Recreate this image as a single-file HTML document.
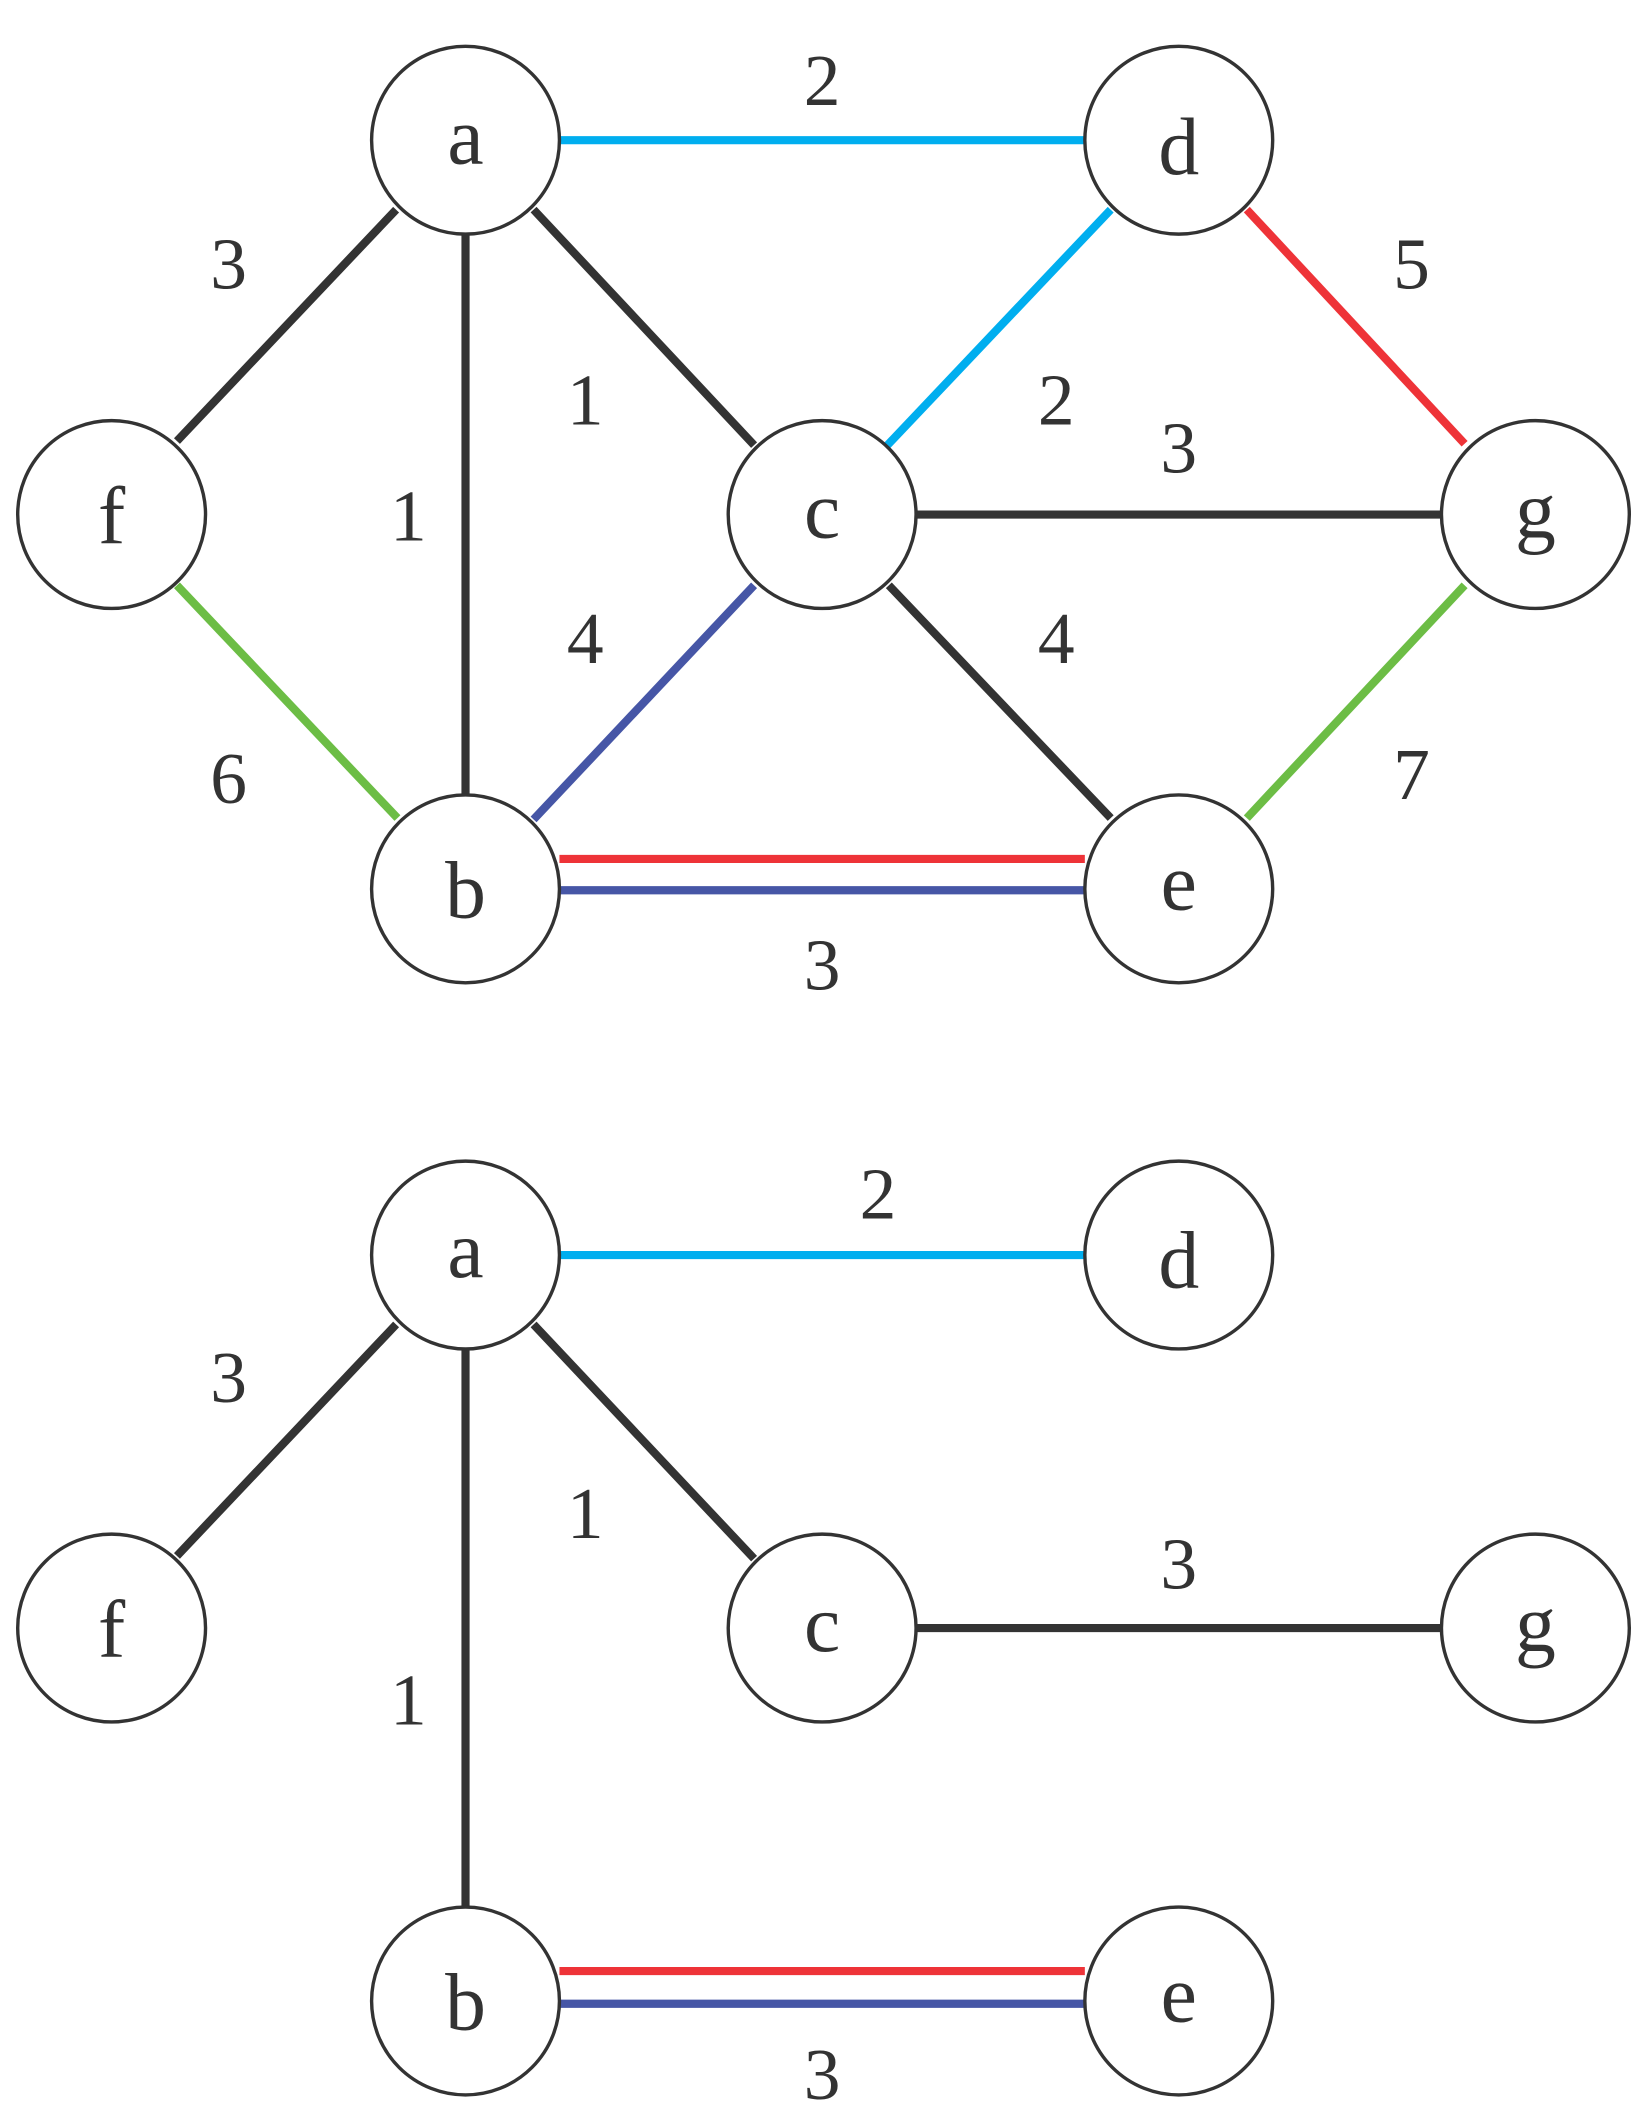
<!DOCTYPE html>
<html><head><meta charset="utf-8"><style>html,body{margin:0;padding:0;background:#fff}svg{display:block}</style></head>
<body>
<svg width="1647" height="2114" viewBox="0 0 1210 1553" preserveAspectRatio="none" xmlns="http://www.w3.org/2000/svg">
<g stroke-width="6" fill="none" stroke-linecap="butt">
<line x1="411" y1="103" x2="797" y2="103" stroke="#00aeef"/>
<line x1="291" y1="154" x2="130" y2="324" stroke="#333"/>
<line x1="342" y1="172" x2="342" y2="584" stroke="#333"/>
<line x1="392" y1="154" x2="554" y2="327" stroke="#333"/>
<line x1="816" y1="154" x2="652" y2="327" stroke="#00aeef"/>
<line x1="916" y1="154" x2="1076" y2="326" stroke="#ee3338"/>
<line x1="673" y1="378" x2="1059" y2="378" stroke="#333"/>
<line x1="554" y1="430" x2="392" y2="602" stroke="#4656a6"/>
<line x1="653" y1="430" x2="816" y2="601" stroke="#333"/>
<line x1="130" y1="430" x2="292" y2="601" stroke="#6cbd45"/>
<line x1="1076" y1="430" x2="916" y2="601" stroke="#6cbd45"/>
<line x1="411" y1="631" x2="797" y2="631" stroke="#ee3338"/>
<line x1="411" y1="654" x2="797" y2="654" stroke="#4656a6"/>
<line x1="411" y1="922" x2="797" y2="922" stroke="#00aeef"/>
<line x1="291" y1="973" x2="130" y2="1143" stroke="#333"/>
<line x1="342" y1="991" x2="342" y2="1401" stroke="#333"/>
<line x1="392" y1="973" x2="554" y2="1145" stroke="#333"/>
<line x1="673" y1="1196" x2="1059" y2="1196" stroke="#333"/>
<line x1="411" y1="1448" x2="797" y2="1448" stroke="#ee3338"/>
<line x1="411" y1="1472" x2="797" y2="1472" stroke="#4656a6"/>
</g>
<g fill="#fff" stroke="#333" stroke-width="2.5">
<circle cx="342" cy="103" r="69"/><circle cx="866" cy="103" r="69"/>
<circle cx="82" cy="378" r="69"/><circle cx="604" cy="378" r="69"/><circle cx="1128" cy="378" r="69"/>
<circle cx="342" cy="653" r="69"/><circle cx="866" cy="653" r="69"/>
<circle cx="342" cy="922" r="69"/><circle cx="866" cy="922" r="69"/>
<circle cx="82" cy="1196" r="69"/><circle cx="604" cy="1196" r="69"/><circle cx="1128" cy="1196" r="69"/>
<circle cx="342" cy="1470" r="69"/><circle cx="866" cy="1470" r="69"/>
</g>
<g font-family="Liberation Serif, serif" font-size="60" fill="#333" text-anchor="middle">
<text x="342" y="120">a</text><text x="866" y="128">d</text>
<text x="82" y="399">f</text><text x="604" y="395">c</text><text x="1128" y="395">g</text>
<text x="342" y="674">b</text><text x="866" y="668">e</text>
<text x="342" y="938">a</text><text x="866" y="946">d</text>
<text x="82" y="1217">f</text><text x="604" y="1213">c</text><text x="1128" y="1213">g</text>
<text x="342" y="1491">b</text><text x="866" y="1485">e</text>
</g>
<g font-family="Liberation Serif, serif" font-size="54" fill="#333" text-anchor="middle">
<text x="604" y="77">2</text><text x="168" y="212">3</text><text x="1037" y="212">5</text>
<text x="430" y="312">1</text><text x="776" y="312">2</text><text x="866" y="347">3</text>
<text x="300" y="397">1</text><text x="430" y="487">4</text><text x="776" y="487">4</text>
<text x="168" y="590">6</text><text x="1037" y="587">7</text><text x="604" y="727">3</text>
<text x="645" y="895">2</text><text x="168" y="1030">3</text><text x="430" y="1130">1</text>
<text x="866" y="1167">3</text><text x="300" y="1267">1</text><text x="604" y="1542">3</text>
</g>
</svg>
</body></html>
